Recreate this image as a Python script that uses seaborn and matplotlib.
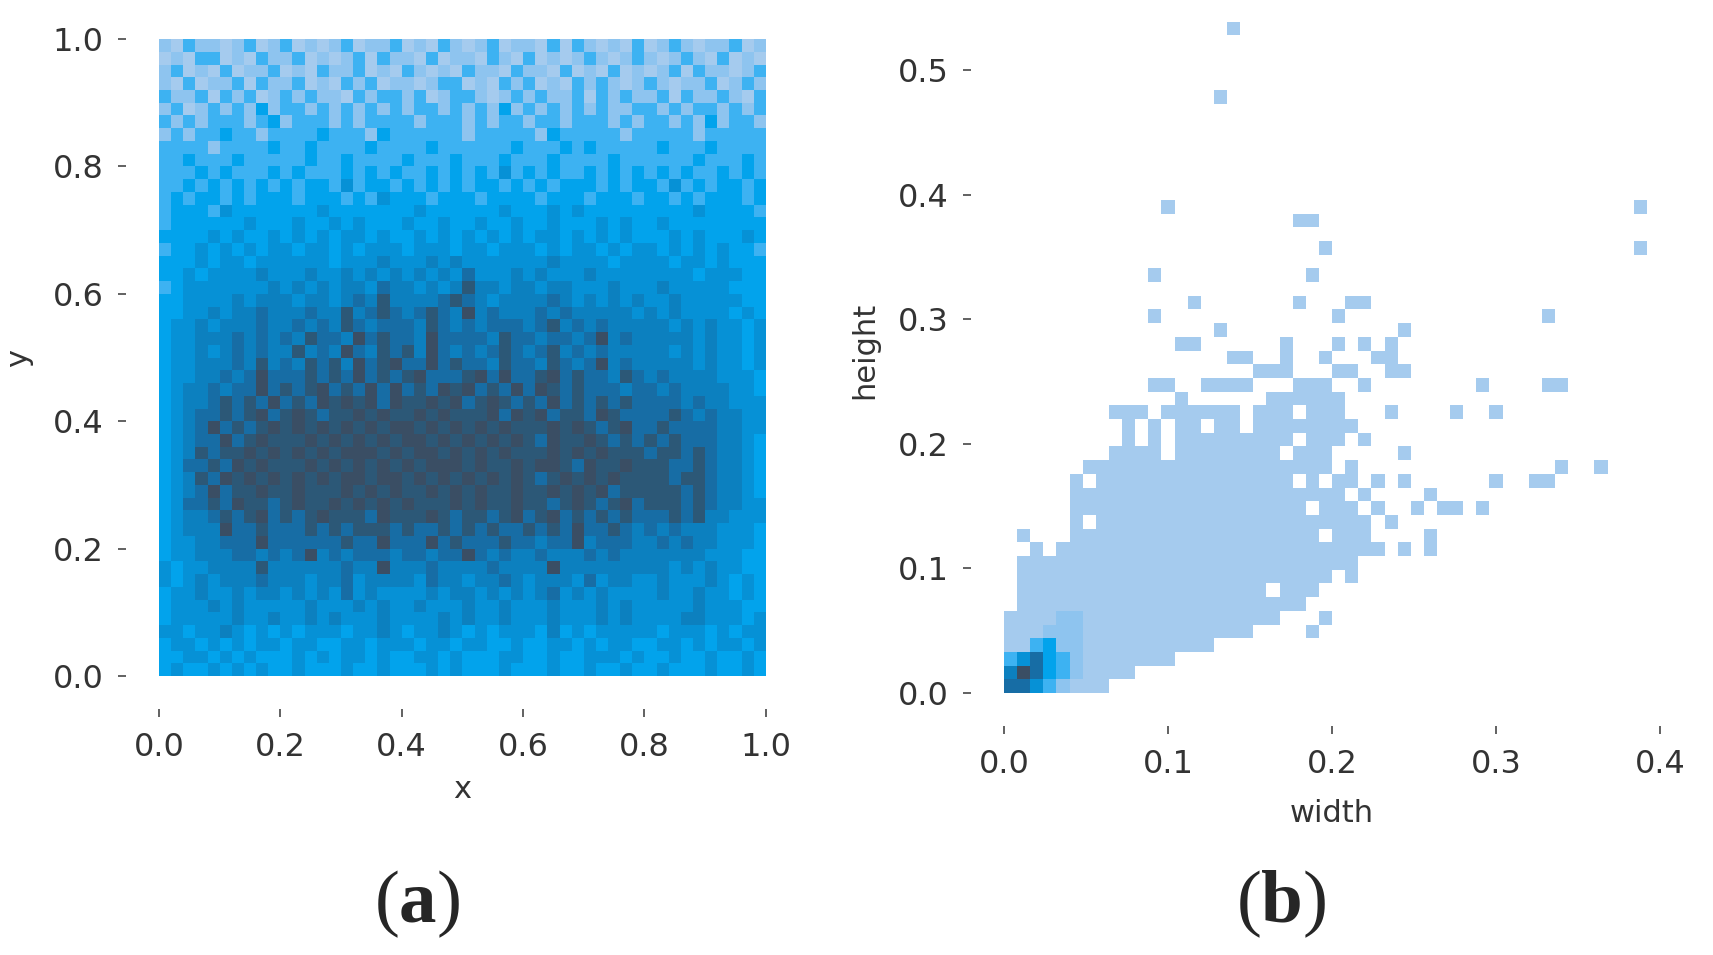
import numpy as np
import pandas as pd
import seaborn as sns
import matplotlib.pyplot as plt
from matplotlib.colors import LinearSegmentedColormap

# (a) box centres: 50 x 50 bins over the unit square, count level per bin
# (top row first, 1 = fewest ... 9 = most)
pos_rows = [
    "2132212312 3121231223 1213212312 2131321213 1232122312",
    "1213312132 2312123132 2131221321 3121232123 2123213121",
    "2312131223 1213223121 3212132213 2213121312 1231322123",
    "2131223132 2312132312 2123312132 3121323212 3212231232",
    "3223132312 3232213233 2312332123 2322313232 2313223213",
    "2312323242 3323232323 2332323242 3232323223 3232332323",
    "3232333234 2333232333 3233323233 2332333232 3323242332",
    "2323343323 3334333243 3333323333 3243333323 3333233333",
    "3333233334 3343333433 3343333334 3334343333 3433343333",
    "3343334333 3343343333 4333433343 3343333433 3333433343",
    "3334343334 3433343434 3343434353 4343343434 3434334343",
    "3343434343 4344353443 4343434434 3434443434 4353434434",
    "3434434344 4344434354 4434443444 4344434443 4434344434",
    "3444354444 4445444444 4544444454 4454544444 4444544443",
    "3444444544 4544545444 5445445445 4454445454 4544444444",
    "4444545445 4545455454 4545454545 4554545454 4454544454",
    "3445454545 5455454555 4555455455 5454554545 5454545443",
    "4445455455 5555455565 5565655555 5565555455 5545545444",
    "4454555565 5565565656 5656575556 5655565555 5555455544",
    "3455555556 5656566576 6565686656 6566555655 5655555444",
    "4455556566 6566567686 6667876566 6676565656 5565555544",
    "4455656676 6676686787 6787696766 6767666665 6565555454",
    "4556566676 6767687677 7687676777 6786767666 6656565545",
    "4556667676 7687769787 7697777687 7677679676 6666565545",
    "4556567676 6867697687 8697676787 6786767666 6656565545",
    "4556667686 7687869789 7797877687 7687679676 6666565545",
    "4556676797 7787879787 8977789797 7897877687 6766665554",
    "4566767797 8789787979 7879897879 7987877767 7676666554",
    "4566787879 7879898979 8898978987 8797878787 7776766555",
    "4567787897 8987889898 8989888979 8978879877 7787676655",
    "4567978789 8989898989 9898989898 8898987897 7877776655",
    "4567797898 8898989898 9989898989 8798898787 8787776654",
    "4568788989 8989899989 8998989898 8898989888 7887876654",
    "4577879898 8898989898 9899989889 8998798898 8877876654",
    "4568798989 8989899899 8989898989 8789898988 8878876654",
    "4567978898 8988898989 8898989889 8898989788 8887876654",
    "4577879887 8988989898 9888989889 8878987897 8887876655",
    "4566787897 8789888798 8898788789 7897878787 7787866555",
    "4566697787 7787878887 8778787877 8787977876 7676665554",
    "4556677797 7777787797 7797877787 7677967776 6767665554",
    "4556667767 6796767776 7767797676 6766676766 6666655544",
    "5455666686 6666676696 6676666766 6696666666 6656565544",
    "5456566676 6656675666 6576656676 5666575665 5655565454",
    "4556556566 5656575655 5565665656 5675656555 5655655454",
    "4555656555 5565556565 5655565565 5565556565 5555655544",
    "4555556556 5565655565 5556565565 5565556565 5556655545",
    "5545565454 5455545565 4556545455 5464545555 5455545455",
    "4554545455 4554455455 5455455445 4455454554 4554545545",
    "4455454544 4545455454 4554544455 4454455545 4454454454",
    "4544545454 4544454454 4454544454 4454454454 4544454454",
]

# (b) box width / height: 50 x 50 bins, count level per bin, '.' = empty
size_rows = [
    ".......... .......... .......... .......... ..........",
    ".......... .......1.. .......... .......... ..........",
    ".......... .......... .......... .......... ..........",
    ".......... .......... .......... .......... ..........",
    ".......... .......... .......... .......... ..........",
    ".......... .......... .......... .......... ..........",
    ".......... ......1... .......... .......... ..........",
    ".......... .......... .......... .......... ..........",
    ".......... .......... .......... .......... ..........",
    ".......... .......... .......... .......... ..........",
    ".......... .......... .......... .......... ..........",
    ".......... .......... .......... .......... ..........",
    ".......... .......... .......... .......... ..........",
    ".......... .......... .......... .......... ..........",
    ".......... ..1....... .......... .......... ........1.",
    ".......... .......... ..11...... .......... ..........",
    ".......... .......... .......... .......... ..........",
    ".......... .......... ....1..... .......... ........1.",
    ".......... .......... .......... .......... ..........",
    ".......... .1........ ...1...... .......... ..........",
    ".......... .......... .......... .......... ..........",
    ".......... ....1..... ..1...11.. .......... ..........",
    ".......... .1........ .....1.... .......... .1........",
    ".......... ......1... .......... 1......... ..........",
    ".......... ...11..... .1...1.1.1 .......... ..........",
    ".......... .......11. .1..1...11 .......... ..........",
    ".......... .........1 11...11..1 1......... ..........",
    ".......... .11..1111. ..111..1.. ......1... .11.......",
    ".......... ...1...... 111111.... .......... ..........",
    "........11 1.111111.1 11.111...1 ....1..1.. ..........",
    ".........1 .1.11.11.1 1111111... .......... ..........",
    ".........1 .1.1111111 11.111.1.. .......... ..........",
    "........11 11.1111111 1.111..... 1......... ..........",
    "......1111 1111111111 11111.1... .......... ..1..1....",
    ".....1.111 1111111111 11.1.11.1. 1......1.. 11........",
    ".....11111 1111111111 111111.1.. ..1....... ..........",
    ".....11111 1111111111 111.111.1. .1.11.1... ..........",
    ".....1.111 1111111111 11111111.1 .......... ..........",
    ".1...11111 1111111111 1111.111.. ..1....... ..........",
    "..1.111111 1111111111 111111111. 1.1....... ..........",
    ".111111111 1111111111 1111111... .......... ..........",
    ".111111111 1111111111 11111.1... .......... ..........",
    ".111111111 1111111111 .111...... .......... ..........",
    ".111111111 1111111111 111....... .......... ..........",
    "1111221111 1111111111 1...1..... .......... ..........",
    "1112221111 111111111. ...1...... .......... ..........",
    "1134221111 111111.... .......... .......... ..........",
    "3574321111 111....... .......... .......... ..........",
    "6974321111 .......... .......... .......... ..........",
    "77532111.. .......... .......... .......... ..........",
]

pos_range = (0.0, 1.0)
width_range = (0.0, 0.4)
height_range = (0.0, 0.55)
pos_ticks = [0.0, 0.2, 0.4, 0.6, 0.8, 1.0]
width_ticks = [0.0, 0.1, 0.2, 0.3, 0.4]
height_ticks = [0.0, 0.1, 0.2, 0.3, 0.4, 0.5]

level_colors = ['#a5cbee', '#8ec4ef', '#3db2f2', '#02a3ec', '#0691d6',
                '#0c80c0', '#166ea6', '#2c5878', '#3a4e64']


def grid_to_frame(rows, xrange, yrange):
    cells = [r.replace(' ', '') for r in rows]
    n_y = len(cells)
    n_x = len(cells[0])
    assert all(len(r) == n_x for r in cells)
    dx = (xrange[1] - xrange[0]) / n_x
    dy = (yrange[1] - yrange[0]) / n_y
    recs = []
    for i, r in enumerate(cells):
        for j, ch in enumerate(r):
            if ch == '.':
                continue
            recs.append((xrange[0] + (j + 0.5) * dx,
                         yrange[1] - (i + 0.5) * dy, int(ch)))
    return pd.DataFrame(recs, columns=['x', 'y', 'count']), n_x, n_y


sns.set_style('ticks')
plt.rcParams['font.family'] = ['DejaVu Sans']
plt.rcParams['mathtext.fontset'] = 'custom'
plt.rcParams['mathtext.rm'] = 'Liberation Serif'
plt.rcParams['mathtext.bf'] = 'Liberation Serif:bold'

cmap = LinearSegmentedColormap.from_list('boxes', level_colors)

fig = plt.figure(figsize=(17.13, 9.55), dpi=100)
ax1 = fig.add_axes([0.0928, 0.2921, 0.3543, 0.667])
ax2 = fig.add_axes([0.5861, 0.2743, 0.383, 0.7173])

df_a, nx, ny = grid_to_frame(pos_rows, pos_range, pos_range)
sns.histplot(data=df_a, x='x', y='y', weights='count', bins=(nx, ny),
             binrange=(pos_range, pos_range), cmap=cmap, vmin=1, vmax=9, ax=ax1)

df_b, nx, ny = grid_to_frame(size_rows, width_range, height_range)
sns.histplot(data=df_b, x='x', y='y', weights='count', bins=(nx, ny),
             binrange=(width_range, height_range), cmap=cmap, vmin=1, vmax=9, ax=ax2)

ax1.set_xlim(pos_range)
ax1.set_ylim(pos_range)
ax1.set_xticks(pos_ticks)
ax1.set_yticks(pos_ticks)
ax2.set_xlim(width_range)
ax2.set_ylim(height_range)
ax2.set_xticks(width_ticks)
ax2.set_yticks(height_ticks)

for ax in (ax1, ax2):
    sns.despine(ax=ax, offset=24)
    ax.spines['left'].set_visible(False)
    ax.spines['bottom'].set_visible(False)
    ax.tick_params(length=6, width=1.3, color='#555555', labelsize=23,
                   labelcolor='#333333', pad=10)

ax1.set_xlabel('x', fontsize=22, color='#333333', labelpad=9)
ax1.set_ylabel('y', fontsize=22, color='#333333', labelpad=14)
ax2.set_xlabel('width', fontsize=22, color='#333333', labelpad=14)
ax2.set_ylabel('height', fontsize=22, color='#333333', labelpad=13)

fig.text(417 / 1713, 1 - 922 / 955, r'($\mathbf{a}$)', family='Liberation Serif',
         fontsize=54, ha='center', va='baseline')
fig.text(1281 / 1713, 1 - 922 / 955, r'($\mathbf{b}$)', family='Liberation Serif',
         fontsize=54, ha='center', va='baseline')

fig.savefig('out.png', dpi=100)
